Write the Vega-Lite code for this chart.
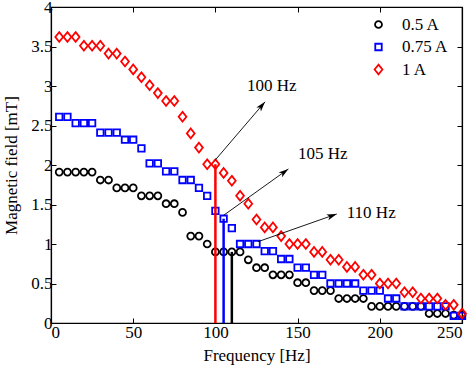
{
  "$schema": "https://vega.github.io/schema/vega-lite/v6.json",
  "width": 411,
  "height": 316,
  "autosize": "none",
  "padding": {"left": 51, "top": 7, "right": 12, "bottom": 44},
  "config": {
    "font": "Times New Roman, Liberation Serif, serif",
    "view": {"stroke": "black", "strokeWidth": 1.2},
    "axis": {
      "grid": false,
      "domainColor": "black",
      "domainWidth": 1.2,
      "tickColor": "black",
      "tickWidth": 1,
      "tickSize": -5,
      "labelOverlap": false,
      "labelColor": "black",
      "labelFont": "Times New Roman, Liberation Serif, serif",
      "labelFontSize": 17,
      "titleFont": "Times New Roman, Liberation Serif, serif",
      "titleFontSize": 17,
      "titleFontWeight": "normal",
      "titleColor": "black"
    },
    "legend": {
      "labelFont": "Times New Roman, Liberation Serif, serif",
      "labelFontSize": 17,
      "labelColor": "black"
    }
  },
  "datasets": {
    "pts": [
      {"f":5,"B":1.91,"s":"0.5 A"},{"f":10,"B":1.91,"s":"0.5 A"},{"f":15,"B":1.91,"s":"0.5 A"},{"f":20,"B":1.91,"s":"0.5 A"},{"f":25,"B":1.91,"s":"0.5 A"},
      {"f":30,"B":1.81,"s":"0.5 A"},{"f":35,"B":1.81,"s":"0.5 A"},{"f":40,"B":1.71,"s":"0.5 A"},{"f":45,"B":1.71,"s":"0.5 A"},{"f":50,"B":1.71,"s":"0.5 A"},
      {"f":55,"B":1.61,"s":"0.5 A"},{"f":60,"B":1.61,"s":"0.5 A"},{"f":65,"B":1.61,"s":"0.5 A"},{"f":70,"B":1.51,"s":"0.5 A"},{"f":75,"B":1.51,"s":"0.5 A"},
      {"f":80,"B":1.40,"s":"0.5 A"},{"f":85,"B":1.10,"s":"0.5 A"},{"f":90,"B":1.10,"s":"0.5 A"},{"f":95,"B":1.00,"s":"0.5 A"},{"f":100,"B":0.90,"s":"0.5 A"},
      {"f":105,"B":0.90,"s":"0.5 A"},{"f":110,"B":0.90,"s":"0.5 A"},{"f":115,"B":0.90,"s":"0.5 A"},{"f":120,"B":0.80,"s":"0.5 A"},{"f":125,"B":0.70,"s":"0.5 A"},
      {"f":130,"B":0.70,"s":"0.5 A"},{"f":135,"B":0.61,"s":"0.5 A"},{"f":140,"B":0.61,"s":"0.5 A"},{"f":145,"B":0.61,"s":"0.5 A"},{"f":150,"B":0.51,"s":"0.5 A"},
      {"f":155,"B":0.51,"s":"0.5 A"},{"f":160,"B":0.41,"s":"0.5 A"},{"f":165,"B":0.41,"s":"0.5 A"},{"f":170,"B":0.41,"s":"0.5 A"},{"f":175,"B":0.31,"s":"0.5 A"},
      {"f":180,"B":0.31,"s":"0.5 A"},{"f":185,"B":0.31,"s":"0.5 A"},{"f":190,"B":0.31,"s":"0.5 A"},{"f":195,"B":0.21,"s":"0.5 A"},{"f":200,"B":0.21,"s":"0.5 A"},
      {"f":205,"B":0.21,"s":"0.5 A"},{"f":210,"B":0.21,"s":"0.5 A"},{"f":215,"B":0.21,"s":"0.5 A"},{"f":220,"B":0.21,"s":"0.5 A"},{"f":225,"B":0.21,"s":"0.5 A"},
      {"f":230,"B":0.12,"s":"0.5 A"},{"f":235,"B":0.12,"s":"0.5 A"},{"f":240,"B":0.12,"s":"0.5 A"},{"f":245,"B":0.10,"s":"0.5 A"},{"f":250,"B":0.10,"s":"0.5 A"},

      {"f":5,"B":2.61,"s":"0.75 A"},{"f":10,"B":2.61,"s":"0.75 A"},{"f":15,"B":2.53,"s":"0.75 A"},{"f":20,"B":2.53,"s":"0.75 A"},{"f":25,"B":2.53,"s":"0.75 A"},
      {"f":30,"B":2.41,"s":"0.75 A"},{"f":35,"B":2.41,"s":"0.75 A"},{"f":40,"B":2.41,"s":"0.75 A"},{"f":45,"B":2.32,"s":"0.75 A"},{"f":50,"B":2.32,"s":"0.75 A"},
      {"f":55,"B":2.21,"s":"0.75 A"},{"f":60,"B":2.02,"s":"0.75 A"},{"f":65,"B":2.02,"s":"0.75 A"},{"f":70,"B":1.92,"s":"0.75 A"},{"f":75,"B":1.92,"s":"0.75 A"},
      {"f":80,"B":1.81,"s":"0.75 A"},{"f":85,"B":1.81,"s":"0.75 A"},{"f":90,"B":1.71,"s":"0.75 A"},{"f":95,"B":1.61,"s":"0.75 A"},{"f":100,"B":1.42,"s":"0.75 A"},
      {"f":105,"B":1.32,"s":"0.75 A"},{"f":110,"B":1.20,"s":"0.75 A"},{"f":115,"B":1.00,"s":"0.75 A"},{"f":120,"B":1.00,"s":"0.75 A"},{"f":125,"B":1.00,"s":"0.75 A"},
      {"f":130,"B":0.91,"s":"0.75 A"},{"f":135,"B":0.91,"s":"0.75 A"},{"f":140,"B":0.81,"s":"0.75 A"},{"f":145,"B":0.81,"s":"0.75 A"},{"f":150,"B":0.70,"s":"0.75 A"},
      {"f":155,"B":0.70,"s":"0.75 A"},{"f":160,"B":0.61,"s":"0.75 A"},{"f":165,"B":0.61,"s":"0.75 A"},{"f":170,"B":0.50,"s":"0.75 A"},{"f":175,"B":0.50,"s":"0.75 A"},
      {"f":180,"B":0.50,"s":"0.75 A"},{"f":185,"B":0.50,"s":"0.75 A"},{"f":190,"B":0.41,"s":"0.75 A"},{"f":195,"B":0.41,"s":"0.75 A"},{"f":200,"B":0.41,"s":"0.75 A"},
      {"f":205,"B":0.31,"s":"0.75 A"},{"f":210,"B":0.31,"s":"0.75 A"},{"f":215,"B":0.21,"s":"0.75 A"},{"f":220,"B":0.21,"s":"0.75 A"},{"f":225,"B":0.21,"s":"0.75 A"},
      {"f":230,"B":0.21,"s":"0.75 A"},{"f":235,"B":0.21,"s":"0.75 A"},{"f":240,"B":0.21,"s":"0.75 A"},{"f":245,"B":0.09,"s":"0.75 A"},{"f":250,"B":0.09,"s":"0.75 A"},

      {"f":5,"B":3.62,"s":"1 A"},{"f":10,"B":3.62,"s":"1 A"},{"f":15,"B":3.62,"s":"1 A"},{"f":20,"B":3.51,"s":"1 A"},{"f":25,"B":3.51,"s":"1 A"},
      {"f":30,"B":3.51,"s":"1 A"},{"f":35,"B":3.41,"s":"1 A"},{"f":40,"B":3.41,"s":"1 A"},{"f":45,"B":3.31,"s":"1 A"},{"f":50,"B":3.21,"s":"1 A"},
      {"f":55,"B":3.11,"s":"1 A"},{"f":60,"B":3.01,"s":"1 A"},{"f":65,"B":2.91,"s":"1 A"},{"f":70,"B":2.81,"s":"1 A"},{"f":75,"B":2.81,"s":"1 A"},
      {"f":80,"B":2.61,"s":"1 A"},{"f":85,"B":2.40,"s":"1 A"},{"f":90,"B":2.22,"s":"1 A"},{"f":95,"B":2.01,"s":"1 A"},{"f":100,"B":2.01,"s":"1 A"},
      {"f":105,"B":1.90,"s":"1 A"},{"f":110,"B":1.80,"s":"1 A"},{"f":115,"B":1.61,"s":"1 A"},{"f":120,"B":1.51,"s":"1 A"},{"f":125,"B":1.31,"s":"1 A"},
      {"f":130,"B":1.21,"s":"1 A"},{"f":135,"B":1.21,"s":"1 A"},{"f":140,"B":1.10,"s":"1 A"},{"f":145,"B":1.00,"s":"1 A"},{"f":150,"B":1.00,"s":"1 A"},
      {"f":155,"B":1.00,"s":"1 A"},{"f":160,"B":0.90,"s":"1 A"},{"f":165,"B":0.90,"s":"1 A"},{"f":170,"B":0.80,"s":"1 A"},{"f":175,"B":0.80,"s":"1 A"},
      {"f":180,"B":0.71,"s":"1 A"},{"f":185,"B":0.71,"s":"1 A"},{"f":190,"B":0.61,"s":"1 A"},{"f":195,"B":0.61,"s":"1 A"},{"f":200,"B":0.50,"s":"1 A"},
      {"f":205,"B":0.50,"s":"1 A"},{"f":210,"B":0.50,"s":"1 A"},{"f":215,"B":0.39,"s":"1 A"},{"f":220,"B":0.39,"s":"1 A"},{"f":225,"B":0.31,"s":"1 A"},
      {"f":230,"B":0.31,"s":"1 A"},{"f":235,"B":0.31,"s":"1 A"},{"f":240,"B":0.23,"s":"1 A"},{"f":245,"B":0.23,"s":"1 A"},{"f":250,"B":0.12,"s":"1 A"}
    ],
    "vlines": [
      {"f":100,"bot":0,"top":2.01,"s":"1 A"},
      {"f":105,"bot":0,"top":1.32,"s":"0.75 A"},
      {"f":110,"bot":0,"top":0.90,"s":"0.5 A"}
    ],
    "arrows": [
      {"id":"a100","x1":99.8,"y1":2.06,"x2":130.2,"y2":2.80,"lab":"100 Hz","lx":119.2,"ly":3.0},
      {"id":"a105","x1":104.8,"y1":1.36,"x2":144.4,"y2":1.95,"lab":"105 Hz","lx":150.2,"ly":2.14},
      {"id":"a110","x1":126.0,"y1":1.03,"x2":173.8,"y2":1.38,"lab":"110 Hz","lx":179.9,"ly":1.39}
    ],
    "frame": [{"f":0,"B":0}]
  },
  "layer": [
    {
      "data": {"name": "pts"},
      "mark": {"type": "point", "filled": false, "strokeWidth": 1.8, "opacity": 1},
      "encoding": {
        "x": {"field": "f", "type": "quantitative", "scale": {"domain": [0, 250], "nice": false},
              "axis": {"orient": "bottom", "values": [0,50,100,150,200,250], "title": "Frequency [Hz]", "labelPadding": 6, "titlePadding": 7, "labelOverlap": false}},
        "y": {"field": "B", "type": "quantitative", "scale": {"domain": [0, 4], "nice": false},
              "axis": {"orient": "left", "values": [0,0.5,1,1.5,2,2.5,3,3.5,4], "labelExpr": "format(datum.value, '~g')", "title": "Magnetic field [mT]", "labelPadding": 4, "titlePadding": 10, "labelOverlap": false}},
        "color": {"field": "s", "type": "nominal",
                  "scale": {"domain": ["0.5 A","0.75 A","1 A"], "range": ["#000000","#0000ff","#ff0000"]},
                  "legend": {"title": null, "orient": "none", "legendX": 319, "legendY": 9, "padding": 0, "labelOffset": 15, "rowPadding": 4.5, "symbolStrokeWidth": 1.8}},
        "shape": {"field": "s", "type": "nominal",
                  "scale": {"domain": ["0.5 A","0.75 A","1 A"], "range": ["circle","square","M0,-1L0.8,0L0,1L-0.8,0Z"]}},
        "size": {"field": "s", "type": "nominal",
                 "scale": {"type": "ordinal", "domain": ["0.5 A","0.75 A","1 A"], "range": [48, 42, 95]}}
      }
    },
    {
      "data": {"name": "vlines"},
      "mark": {"type": "rule", "strokeWidth": 2.5},
      "encoding": {
        "x": {"field": "f", "type": "quantitative", "axis": null},
        "y": {"field": "bot", "type": "quantitative", "axis": null},
        "y2": {"field": "top"},
        "stroke": {"field": "s", "type": "nominal", "legend": null,
                   "scale": {"domain": ["0.5 A","0.75 A","1 A"], "range": ["#000000","#0000ff","#ff0000"]}}
      }
    },
    {
      "data": {"name": "arrows"},
      "mark": {"type": "rule", "strokeWidth": 0.9, "color": "black"},
      "encoding": {
        "x": {"field": "x1", "type": "quantitative", "axis": null},
        "y": {"field": "y1", "type": "quantitative", "axis": null},
        "x2": {"field": "x2"},
        "y2": {"field": "y2"}
      }
    },
    {
      "data": {"name": "arrows"},
      "transform": [{"filter": "datum.id == 'a100'"}],
      "mark": {"type": "point", "shape": "M0,0L0.6,2L0,1.5L-0.6,2Z", "filled": true, "color": "black", "opacity": 1, "size": 100, "angle": 40},
      "encoding": {"x": {"field": "x2", "type": "quantitative", "axis": null}, "y": {"field": "y2", "type": "quantitative", "axis": null}}
    },
    {
      "data": {"name": "arrows"},
      "transform": [{"filter": "datum.id == 'a105'"}],
      "mark": {"type": "point", "shape": "M0,0L0.6,2L0,1.5L-0.6,2Z", "filled": true, "color": "black", "opacity": 1, "size": 100, "angle": 54},
      "encoding": {"x": {"field": "x2", "type": "quantitative", "axis": null}, "y": {"field": "y2", "type": "quantitative", "axis": null}}
    },
    {
      "data": {"name": "arrows"},
      "transform": [{"filter": "datum.id == 'a110'"}],
      "mark": {"type": "point", "shape": "M0,0L0.6,2L0,1.5L-0.6,2Z", "filled": true, "color": "black", "opacity": 1, "size": 100, "angle": 70},
      "encoding": {"x": {"field": "x2", "type": "quantitative", "axis": null}, "y": {"field": "y2", "type": "quantitative", "axis": null}}
    },
    {
      "data": {"name": "arrows"},
      "mark": {"type": "text", "align": "left", "baseline": "middle", "font": "Times New Roman, Liberation Serif, serif", "fontSize": 17, "color": "black"},
      "encoding": {
        "x": {"field": "lx", "type": "quantitative", "axis": null},
        "y": {"field": "ly", "type": "quantitative", "axis": null},
        "text": {"field": "lab"}
      }
    },
    {
      "data": {"name": "frame"},
      "mark": {"type": "point", "opacity": 0},
      "encoding": {
        "x": {"field": "f", "type": "quantitative", "axis": {"orient": "top", "values": [0,50,100,150,200,250], "labels": false, "title": null}},
        "y": {"field": "B", "type": "quantitative", "axis": {"orient": "right", "values": [0,0.5,1,1.5,2,2.5,3,3.5,4], "labels": false, "title": null}}
      }
    }
  ],
  "resolve": {"axis": {"x": "independent", "y": "independent"}}
}
